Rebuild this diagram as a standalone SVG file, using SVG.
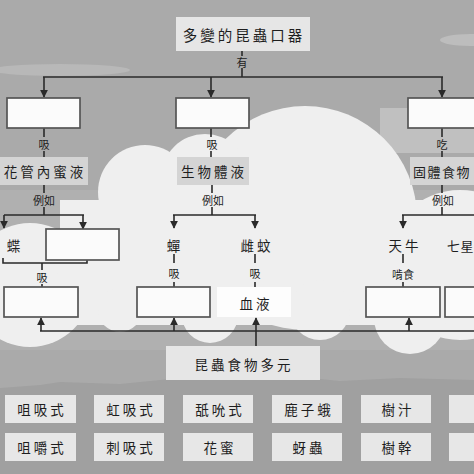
<svg xmlns="http://www.w3.org/2000/svg" width="474" height="474" viewBox="0 0 474 474">
<defs>
<style>
text{font-family:"Noto Sans CJK TC","Noto Sans CJK SC",sans-serif;fill:#1e1e1e;text-anchor:middle;dominant-baseline:central}
.t{font-size:13.5px;letter-spacing:3px}
.s{font-size:11px}
.w{fill:#fbfbfb;stroke:#555555;stroke-width:1.7}
.g{fill:#d4d4d4}
.c{fill:#e6e6e6}
.cell{fill:#e7e7e7}
.ln{stroke:#2a2a2a;stroke-width:1.6;fill:none}
.cl{fill:#efefef}
</style>
<marker id="ah" viewBox="0 0 10 10" refX="9" refY="5" markerWidth="5" markerHeight="5" orient="auto">
<path d="M0,0L10,5L0,10z" fill="#2a2a2a"/>
</marker>
</defs>

<g id="background">
<rect width="474" height="474" fill="#aaaaaa"/>
<ellipse cx="60" cy="70" rx="70" ry="6" fill="#b8b8b8"/>
<ellipse cx="470" cy="40" rx="30" ry="6" fill="#bdbdbd"/>
<rect x="380" y="108" width="94" height="45" fill="#c0c0c0"/>
<rect x="0" y="190" width="474" height="160" fill="#b0b0b0"/>
<g class="cl">
<circle cx="305" cy="218" r="112"/>
<circle cx="205" cy="178" r="44"/>
<circle cx="145" cy="192" r="47"/>
<circle cx="30" cy="285" r="62"/>
<circle cx="95" cy="255" r="42"/>
<circle cx="460" cy="265" r="75"/>
<rect x="60" y="200" width="414" height="125"/>
<circle cx="120" cy="310" r="22"/>
<circle cx="210" cy="315" r="28"/>
<circle cx="320" cy="310" r="30"/>
<circle cx="410" cy="318" r="36"/>
</g>
<path d="M0,388 L40,385 L60,382 L120,384 L160,380 L200,376 L240,379 L300,377 L340,381 L400,378 L474,380 L474,474 L0,474 Z" fill="#a0a0a0"/>
</g>

<g id="connectors">
<line class="ln" x1="242" y1="51" x2="242" y2="56"/>
<line class="ln" x1="242" y1="68" x2="242" y2="77"/>
<line class="ln" x1="43" y1="77" x2="443" y2="77"/>
<line class="ln" x1="44" y1="77" x2="44" y2="97" marker-end="url(#ah)"/>
<line class="ln" x1="211" y1="77" x2="211" y2="97" marker-end="url(#ah)"/>
<line class="ln" x1="442" y1="77" x2="442" y2="97" marker-end="url(#ah)"/>

<line class="ln" x1="44" y1="128" x2="44" y2="137"/>
<line class="ln" x1="44" y1="151" x2="44" y2="157"/>
<line class="ln" x1="44" y1="185" x2="44" y2="193"/>
<line class="ln" x1="44" y1="207" x2="44" y2="215"/>
<line class="ln" x1="4" y1="215" x2="84" y2="215"/>
<line class="ln" x1="4" y1="215" x2="4" y2="228" marker-end="url(#ah)"/>
<line class="ln" x1="83" y1="215" x2="83" y2="229" marker-end="url(#ah)"/>
<polyline class="ln" points="3,258 3,263 87,263 87,260"/>
<line class="ln" x1="42" y1="263" x2="42" y2="270"/>
<line class="ln" x1="42" y1="284" x2="42" y2="287"/>

<line class="ln" x1="211" y1="128" x2="211" y2="137"/>
<line class="ln" x1="211" y1="151" x2="211" y2="157"/>
<line class="ln" x1="212" y1="185" x2="212" y2="193"/>
<line class="ln" x1="212" y1="207" x2="212" y2="215"/>
<line class="ln" x1="173" y1="215" x2="256" y2="215"/>
<line class="ln" x1="174" y1="215" x2="174" y2="228" marker-end="url(#ah)"/>
<line class="ln" x1="255" y1="215" x2="255" y2="228" marker-end="url(#ah)"/>
<line class="ln" x1="174" y1="254" x2="174" y2="263"/>
<line class="ln" x1="174" y1="282" x2="174" y2="287"/>
<line class="ln" x1="255" y1="254" x2="255" y2="263"/>
<line class="ln" x1="255" y1="282" x2="255" y2="287"/>

<line class="ln" x1="442" y1="128" x2="442" y2="137"/>
<line class="ln" x1="442" y1="151" x2="442" y2="157"/>
<line class="ln" x1="442" y1="185" x2="442" y2="193"/>
<line class="ln" x1="442" y1="207" x2="442" y2="215"/>
<line class="ln" x1="402" y1="215" x2="474" y2="215"/>
<line class="ln" x1="403" y1="215" x2="403" y2="228" marker-end="url(#ah)"/>
<line class="ln" x1="403" y1="254" x2="403" y2="263"/>
<line class="ln" x1="403" y1="282" x2="403" y2="287"/>

<line class="ln" x1="40" y1="331" x2="474" y2="331"/>
<line class="ln" x1="41" y1="331" x2="41" y2="318" marker-end="url(#ah)"/>
<line class="ln" x1="174" y1="331" x2="174" y2="318" marker-end="url(#ah)"/>
<line class="ln" x1="409" y1="331" x2="409" y2="318" marker-end="url(#ah)"/>
<line class="ln" x1="256" y1="347" x2="256" y2="318" stroke-width="2.2" marker-end="url(#ah)"/>
</g>

<g id="title"><rect x="176" y="17" width="134" height="34" class="c"/><text class="t" x="244" y="34" style="font-size:14.5px">多變的昆蟲口器</text></g>
<g id="lbl-you"><text class="s" x="242" y="62">有</text></g>

<g id="box-l1"><rect x="7" y="98" width="73" height="30" class="w"/></g>
<g id="box-m1"><rect x="176" y="98" width="73" height="30" class="w"/></g>
<g id="box-r1"><rect x="408" y="98" width="80" height="30" class="w"/></g>

<g id="lbl-xi1"><text class="s" x="44" y="144">吸</text></g>
<g id="lbl-xi2"><text class="s" x="212" y="144">吸</text></g>
<g id="lbl-chi"><text class="s" x="442" y="144">吃</text></g>

<g id="nectar"><rect x="0" y="157" width="88" height="28" class="g"/><text class="t" x="45" y="171">花管內蜜液</text></g>
<g id="body-fluid"><rect x="177" y="157" width="72" height="28" class="g"/><text class="t" x="214" y="171">生物體液</text></g>
<g id="solid-food"><rect x="410" y="157" width="80" height="28" class="g"/><text x="413" y="171" style="text-anchor:start;font-size:13px;letter-spacing:1.5px">固體食物</text></g>

<g id="eg1"><text class="s" x="44" y="200">例如</text></g>
<g id="eg2"><text class="s" x="213" y="200">例如</text></g>
<g id="eg3"><text class="s" x="443" y="200">例如</text></g>

<g id="butterfly"><text class="t" x="15" y="245">蝶</text></g>
<g id="box-l2"><rect x="46" y="229" width="73" height="31" class="w"/></g>
<g id="lbl-xi3"><text class="s" x="42" y="277">吸</text></g>
<g id="box-l3"><rect x="4" y="287" width="74" height="30" class="w"/></g>

<g id="cicada"><text class="t" x="175" y="245">蟬</text></g>
<g id="mosquito"><text class="t" x="257" y="245">雌蚊</text></g>
<g id="lbl-xi4"><text class="s" x="174" y="273">吸</text></g>
<g id="lbl-xi5"><text class="s" x="255" y="273">吸</text></g>
<g id="box-m3"><rect x="137" y="287" width="73" height="30" class="w"/></g>
<g id="blood"><rect x="217" y="287" width="74" height="30" fill="#fdfdfd"/><text class="t" x="256" y="303">血液</text></g>

<g id="longhorn"><text class="t" x="405" y="245">天牛</text></g>
<g id="ladybug"><text x="447" y="245" style="text-anchor:start;font-size:13px;letter-spacing:0.5px">七星</text></g>
<g id="lbl-chew"><text class="s" x="403" y="274">啃食</text></g>
<g id="box-r3"><rect x="366" y="287" width="74" height="30" class="w"/></g>
<g id="box-r4"><rect x="445" y="287" width="74" height="30" class="w"/></g>

<g id="food-diverse"><rect x="166" y="346" width="154" height="34" class="c"/><text class="t" x="244" y="364">昆蟲食物多元</text></g>

<g id="grid">
<g id="c1"><rect x="5" y="395" width="71" height="28" class="cell"/><text class="t" x="42" y="409">咀吸式</text></g>
<g id="c2"><rect x="94" y="395" width="70" height="28" class="cell"/><text class="t" x="131" y="409">虹吸式</text></g>
<g id="c3"><rect x="183" y="395" width="70" height="28" class="cell"/><text class="t" x="220" y="409">舐吮式</text></g>
<g id="c4"><rect x="272" y="395" width="70" height="28" class="cell"/><text class="t" x="309" y="409">鹿子蛾</text></g>
<g id="c5"><rect x="361" y="395" width="70" height="28" class="cell"/><text class="t" x="398" y="409">樹汁</text></g>
<g id="c6"><rect x="449" y="395" width="70" height="28" class="cell"/></g>
<g id="c7"><rect x="5" y="433" width="71" height="28" class="cell"/><text class="t" x="42" y="447">咀嚼式</text></g>
<g id="c8"><rect x="94" y="433" width="70" height="28" class="cell"/><text class="t" x="131" y="447">刺吸式</text></g>
<g id="c9"><rect x="183" y="433" width="70" height="28" class="cell"/><text class="t" x="220" y="447">花蜜</text></g>
<g id="c10"><rect x="272" y="433" width="70" height="28" class="cell"/><text class="t" x="309" y="447">蚜蟲</text></g>
<g id="c11"><rect x="361" y="433" width="70" height="28" class="cell"/><text class="t" x="398" y="447">樹幹</text></g>
<g id="c12"><rect x="449" y="433" width="70" height="28" class="cell"/></g>
</g>
</svg>
